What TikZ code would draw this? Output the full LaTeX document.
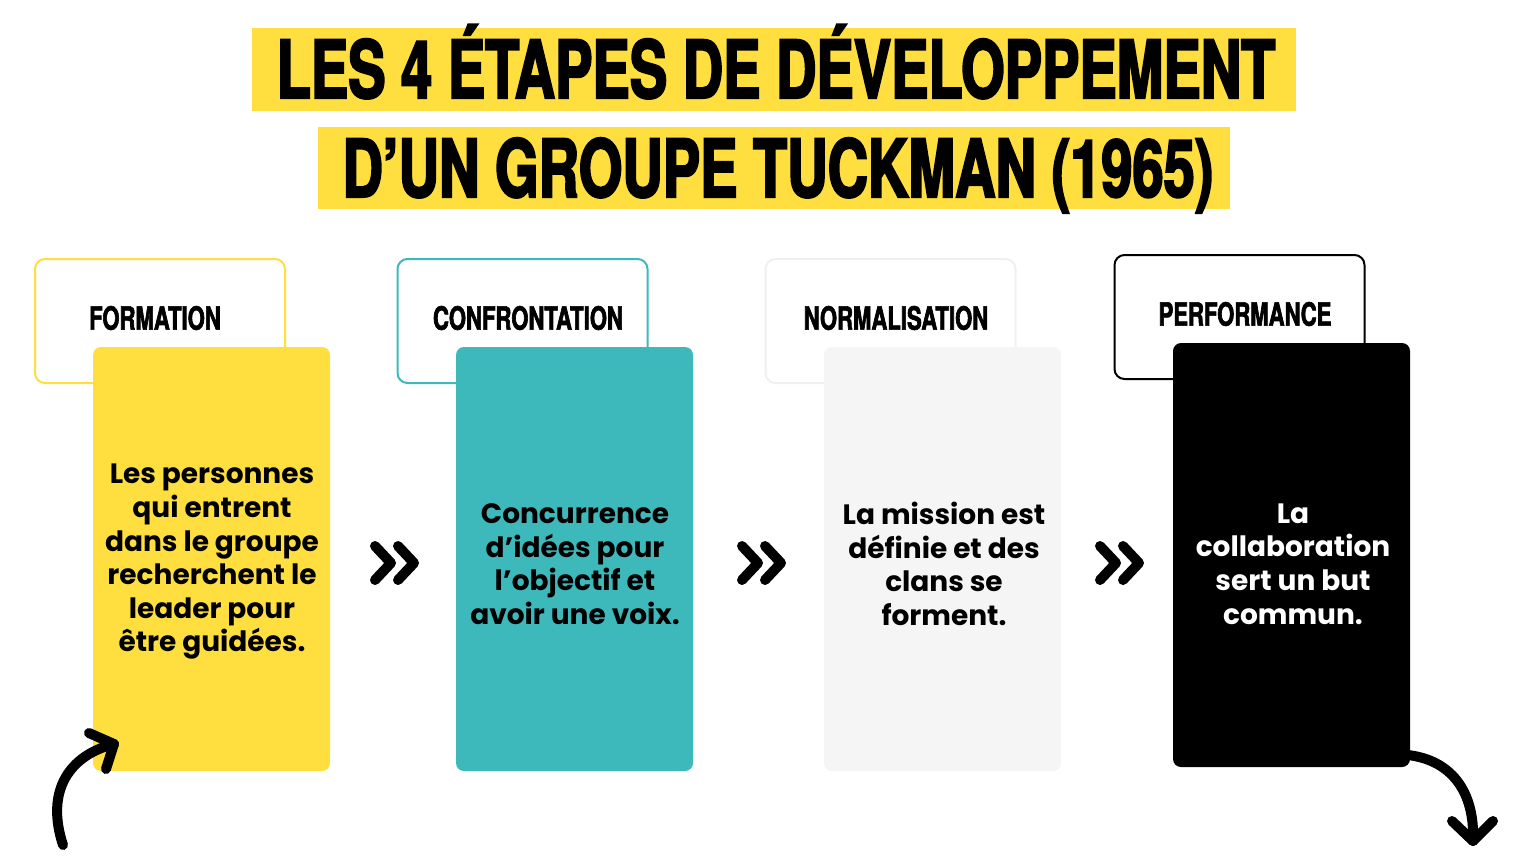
\documentclass[tikz,border=0pt]{standalone}
\usepackage{fontspec}
\newfontfamily\pop{Poppins}
\newfontfamily\condfont[FakeStretch=0.7,FakeBold=2.5]{texgyreheros-bold.otf}
\newfontfamily\labfont[FakeStretch=0.69,FakeBold=2]{texgyreheros-bold.otf}
\definecolor{yel}{HTML}{FFDF40}
\definecolor{teal}{HTML}{3DB9BC}
\definecolor{lgray}{HTML}{F5F5F5}
\definecolor{lborder}{HTML}{F0F0F0}
\tikzset{
  outlinebox/.style={draw, line width=1pt, rounded corners=5pt, fill=white, minimum width=125pt, minimum height=62pt, inner sep=0pt},
  cardbox/.style={rounded corners=4pt, minimum width=118.5pt, minimum height=212pt, inner sep=0pt},
  labeltext/.style={font=\labfont\fontsize{16}{18}\selectfont, inner sep=0pt},
  cardtext/.style={font=\pop\bfseries\fontsize{14}{16.8}\selectfont, align=center, inner sep=0pt},
  titlebar/.style={fill=yel, inner sep=0pt},
  titletext/.style={font=\condfont\fontsize{40}{44}\selectfont, inner sep=0pt, anchor=base},
  chev/.style={line width=5pt, line cap=round, line join=round},
  bigarrow/.style={line width=5pt, line cap=round, line join=round},
}
\begin{document}
\begin{tikzpicture}[x=0.5pt,y=-0.5pt]
\useasboundingbox (0,0) rectangle (1536,864);
% title
\node[titlebar, minimum width=522pt, minimum height=41.5pt] (bar1) at (774,69.5) {};
\node[titlebar, minimum width=456pt, minimum height=41pt] (bar2) at (774,168) {};
\node[titletext] (t1) at (776,98) {LES 4 ÉTAPES DE DÉVELOPPEMENT};
\node[titletext] (t2) at (778,197) {D’UN GROUPE TUCKMAN (1965)};
% outline label boxes
\node[outlinebox, draw=yel] (o1) at (160,321) {};
\node[outlinebox, draw=teal] (o2) at (522.5,321) {};
\node[outlinebox, draw=lborder] (o3) at (890.5,321) {};
\node[outlinebox, draw=black] (o4) at (1239.5,317) {};
\node[labeltext] (l1) at (155,318) {FORMATION};
\node[labeltext] (l2) at (528,318) {CONFRONTATION};
\node[labeltext] (l3) at (896,318) {NORMALISATION};
\node[labeltext] (l4) at (1245,314) {PERFORMANCE};
% cards
\node[cardbox, fill=yel] (c1) at (211.5,559) {};
\node[cardbox, fill=teal] (c2) at (574.5,559) {};
\node[cardbox, fill=lgray] (c3) at (942.5,559) {};
\node[cardbox, fill=black] (c4) at (1291.5,555) {};
\node[cardtext] (x1) at (212,562) {Les personnes\\qui entrent\\dans le groupe\\recherchent le\\leader pour\\être guidées.};
\node[cardtext] (x2) at (575,564) {Concurrence\\d’idées pour\\l’objectif et\\avoir une voix.};
\node[cardtext] (x3) at (944,564) {La mission est\\définie et des\\clans se\\forment.};
\node[cardtext, text=white] (x4) at (1293,564) {La\\collaboration\\sert un but\\commun.};
% chevrons
\coordinate (ch1) at (393,563);
\coordinate (ch2) at (760,563);
\coordinate (ch3) at (1118,563);
\foreach \c in {ch1,ch2,ch3}{
  \draw[chev, shift={(\c)}] (-18,-17) -- (-2,0) -- (-18,17) (5,-17) -- (21,0) -- (5,17);
}
% curved arrows
\coordinate (a1s) at (63,845);
\coordinate (a1e) at (114,744);
\draw[bigarrow] (a1s) .. controls (45,790) and (70,755) .. (a1e);
\draw[bigarrow] (89,733) -- (a1e) -- (106,769);
\coordinate (a2s) at (1408,755);
\coordinate (a2e) at (1473,841);
\draw[bigarrow] (a2s) .. controls (1450,760) and (1475,790) .. (a2e);
\draw[bigarrow] (1452,821) -- (a2e) -- (1493,821);
\end{tikzpicture}
\end{document}
